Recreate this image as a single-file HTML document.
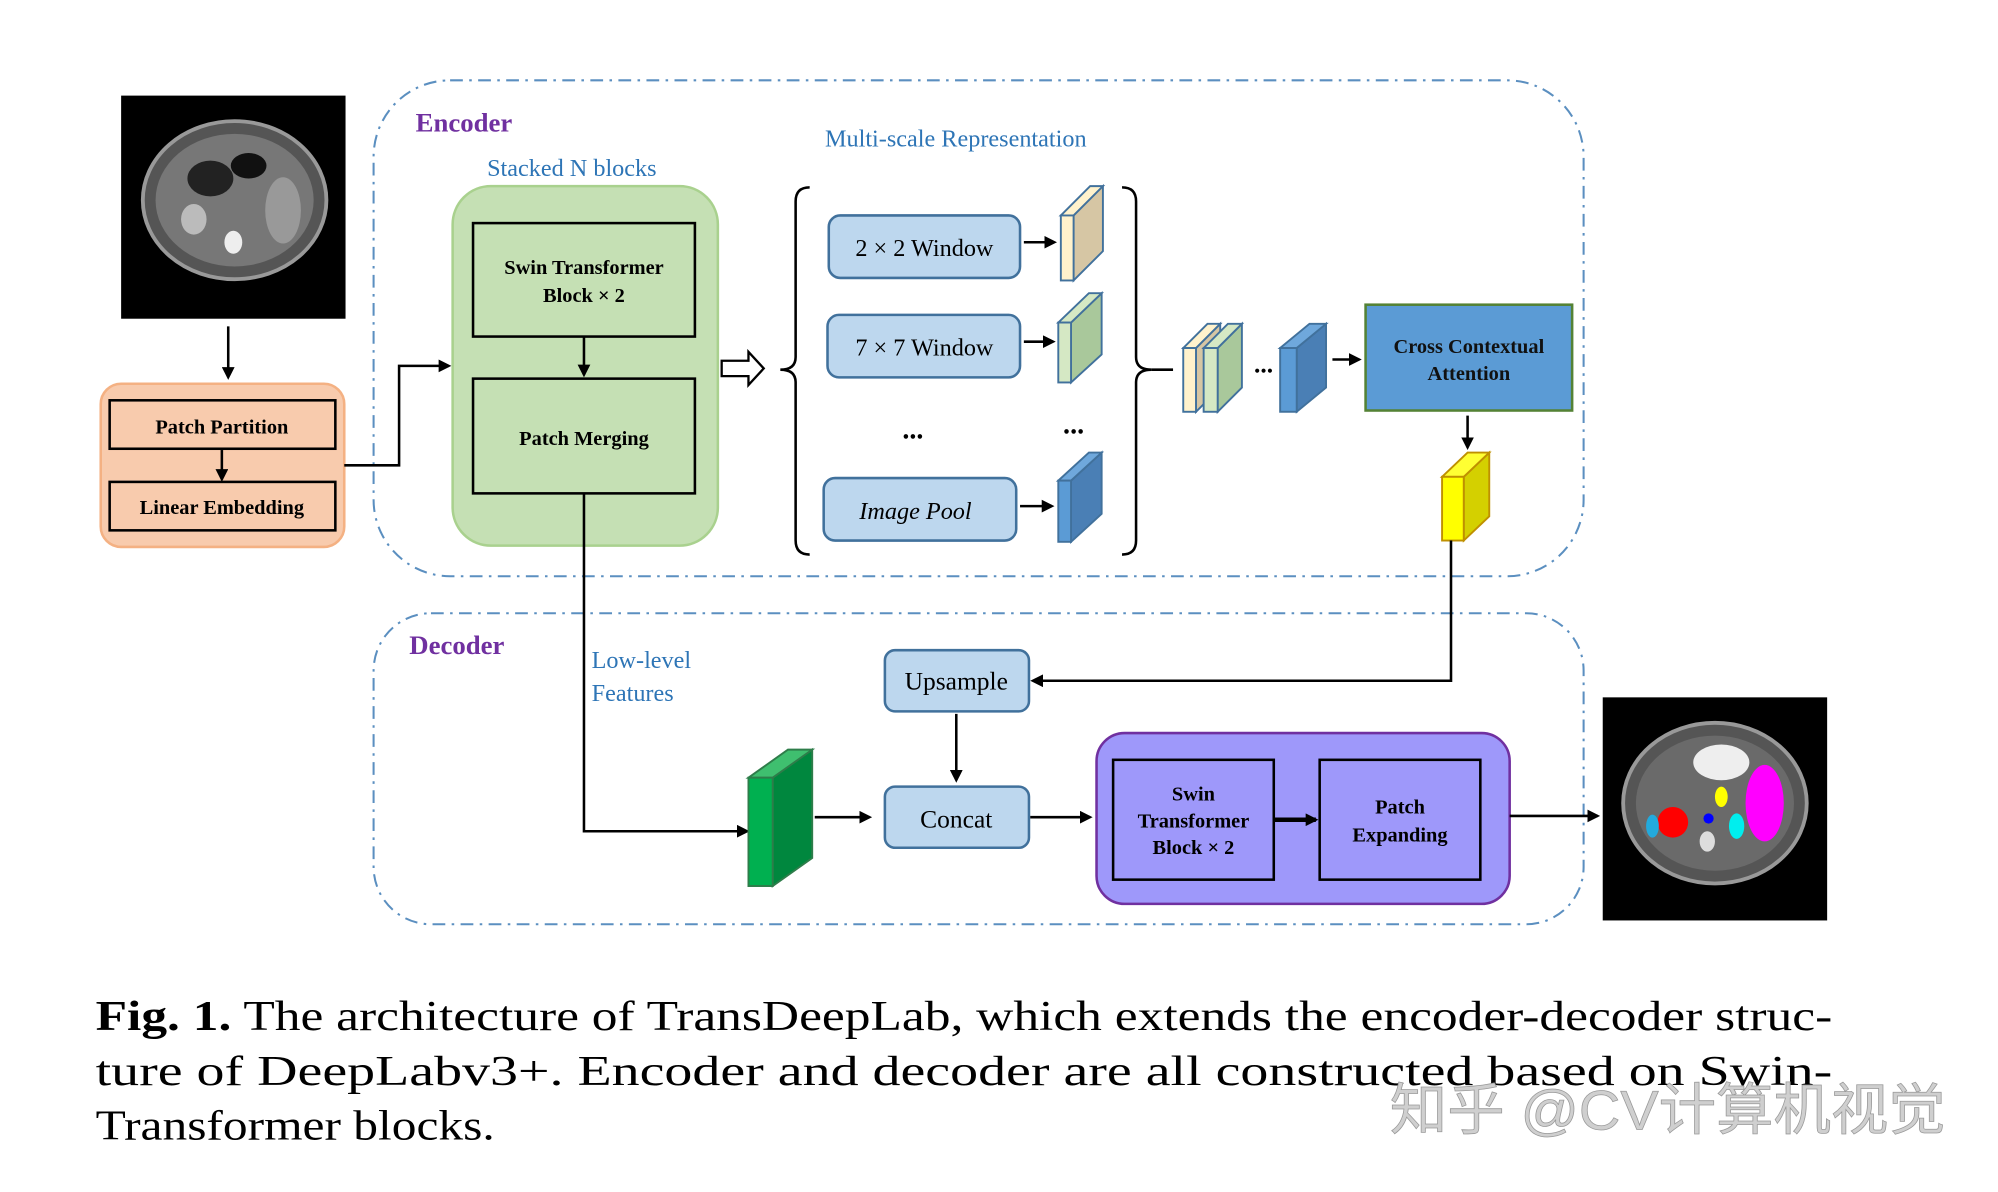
<!DOCTYPE html>
<html><head><meta charset="utf-8"><style>
html,body{margin:0;padding:0;background:#fff;}
svg{display:block;}
text{font-family:"Liberation Serif","Noto Serif CJK SC",serif;}
</style></head><body>
<svg width="1998" height="1192" viewBox="0 0 1567 935" preserveAspectRatio="none" xmlns="http://www.w3.org/2000/svg">
<defs>
<marker id="ah" markerWidth="10" markerHeight="10" refX="8" refY="5" orient="auto" markerUnits="userSpaceOnUse"><path d="M0,0 L10,5 L0,10 z" fill="#000"/></marker>
</defs>
<rect width="1567" height="935" fill="#fff"/>

<rect x="293" y="63" width="949" height="389" rx="60" fill="none" stroke="#5b8fc0" stroke-width="1.6" stroke-dasharray="10,5,2,5"/>
<rect x="293" y="481" width="949" height="244" rx="45" fill="none" stroke="#5b8fc0" stroke-width="1.6" stroke-dasharray="10,5,2,5"/>

<rect x="95" y="75" width="176" height="175" fill="#000"/>
<ellipse cx="184" cy="157" rx="72" ry="62" fill="#555" stroke="#999" stroke-width="3"/>
<ellipse cx="184" cy="157" rx="62" ry="52" fill="#777"/>
<ellipse cx="165" cy="140" rx="18" ry="14" fill="#222"/>
<ellipse cx="195" cy="130" rx="14" ry="10" fill="#111"/>
<ellipse cx="222" cy="165" rx="14" ry="26" fill="#999"/>
<ellipse cx="152" cy="172" rx="10" ry="12" fill="#bbb"/>
<ellipse cx="183" cy="190" rx="7" ry="9" fill="#eee"/>

<line x1="179" y1="256" x2="179" y2="296" stroke="#000" stroke-width="2" marker-end="url(#ah)"/>

<rect x="79" y="301" width="191" height="128" rx="16" fill="#f8cbad" stroke="#f4b183" stroke-width="2"/>
<rect x="86" y="314" width="177" height="38" fill="#f8cbad" stroke="#000" stroke-width="2"/>
<rect x="86" y="378" width="177" height="38" fill="#f8cbad" stroke="#000" stroke-width="2"/>
<text x="174" y="340" font-size="16" font-weight="bold" text-anchor="middle">Patch Partition</text>
<text x="174" y="403" font-size="16" font-weight="bold" text-anchor="middle">Linear Embedding</text>
<line x1="174" y1="353" x2="174" y2="376" stroke="#000" stroke-width="2" marker-end="url(#ah)"/>

<polyline points="270,365 313,365 313,287 352,287" fill="none" stroke="#000" stroke-width="2" marker-end="url(#ah)"/>

<text x="326" y="103" font-size="21" font-weight="bold" fill="#7030a0">Encoder</text>
<text x="382" y="138" font-size="19" fill="#2e75b6">Stacked N blocks</text>
<text x="647" y="115" font-size="19" fill="#2e75b6">Multi-scale Representation</text>

<rect x="355" y="146" width="208" height="282" rx="30" fill="#c5e0b4" stroke="#a9d18e" stroke-width="2"/>
<rect x="371" y="175" width="174" height="89" fill="#c5e0b4" stroke="#000" stroke-width="2"/>
<rect x="371" y="297" width="174" height="90" fill="#c5e0b4" stroke="#000" stroke-width="2"/>
<text x="458" y="215" font-size="16" font-weight="bold" text-anchor="middle">Swin Transformer</text>
<text x="458" y="237" font-size="16" font-weight="bold" text-anchor="middle">Block × 2</text>
<text x="458" y="349" font-size="16" font-weight="bold" text-anchor="middle">Patch Merging</text>
<line x1="458" y1="264" x2="458" y2="294" stroke="#000" stroke-width="2" marker-end="url(#ah)"/>

<path d="M566,283 L587,283 L587,276 L599,289 L587,302 L587,295 L566,295 z" fill="#fff" stroke="#000" stroke-width="1.8"/>

<path d="M635,147 Q624,147 624,158 L624,280 Q624,290 612,290 Q624,290 624,300 L624,424 Q624,435 635,435" fill="none" stroke="#000" stroke-width="2"/>
<path d="M880,147 Q891,147 891,158 L891,280 Q891,290 903,290 Q891,290 891,300 L891,424 Q891,435 880,435" fill="none" stroke="#000" stroke-width="2"/>
<line x1="903" y1="290" x2="920" y2="290" stroke="#000" stroke-width="2"/>

<rect x="650" y="169" width="150" height="49" rx="9" fill="#bdd7ee" stroke="#41719c" stroke-width="2"/>
<rect x="649" y="247" width="151" height="49" rx="9" fill="#bdd7ee" stroke="#41719c" stroke-width="2"/>
<rect x="646" y="375" width="151" height="49" rx="9" fill="#bdd7ee" stroke="#41719c" stroke-width="2"/>
<text x="725" y="201" font-size="19" text-anchor="middle">2 × 2 Window</text>
<text x="725" y="279" font-size="19" text-anchor="middle">7 × 7 Window</text>
<text x="718" y="407" font-size="19" font-style="italic" text-anchor="middle">Image Pool</text>
<text x="716" y="344" font-size="22" font-weight="bold" text-anchor="middle">...</text>
<text x="842" y="340" font-size="22" font-weight="bold" text-anchor="middle">...</text>
<line x1="803" y1="190" x2="827" y2="190" stroke="#000" stroke-width="2" marker-end="url(#ah)"/>
<line x1="803" y1="268" x2="826" y2="268" stroke="#000" stroke-width="2" marker-end="url(#ah)"/>
<line x1="800" y1="397" x2="825" y2="397" stroke="#000" stroke-width="2" marker-end="url(#ah)"/>

<g stroke="#41719c" stroke-width="1.5">
<polygon points="842,169 865,146 865,197 842,220" fill="#d6c6a4"/>
<polygon points="832,169 855,146 865,146 842,169" fill="#fff2cc"/>
<rect x="832" y="169" width="10" height="51" fill="#fff2cc"/>
<polygon points="840,253 864,230 864,278 840,300" fill="#a9c89b"/>
<polygon points="830,253 854,230 864,230 840,253" fill="#d5e8c4"/>
<rect x="830" y="253" width="10" height="47" fill="#d5e8c4"/>
<polygon points="840,377 864,355 864,403 840,425" fill="#4a7fb5"/>
<polygon points="830,377 854,355 864,355 840,377" fill="#6fa8dc"/>
<rect x="830" y="377" width="10" height="48" fill="#5b9bd5"/>
<polygon points="938,273 957,254 957,304 938,323" fill="#d6c6a4"/>
<polygon points="928,273 947,254 957,254 938,273" fill="#fff2cc"/>
<rect x="928" y="273" width="10" height="50" fill="#fff2cc"/>
<polygon points="955,273 974,254 974,304 955,323" fill="#a9c89b"/>
<polygon points="944,273 963,254 974,254 955,273" fill="#d5e8c4"/>
<rect x="944" y="273" width="11" height="50" fill="#d5e8c4"/>
<polygon points="1017,273 1040,254 1040,304 1017,323" fill="#4a7fb5"/>
<polygon points="1004,273 1027,254 1040,254 1017,273" fill="#6fa8dc"/>
<rect x="1004" y="273" width="13" height="50" fill="#5b9bd5"/>
</g>
<text x="991" y="292" font-size="20" font-weight="bold" text-anchor="middle">...</text>
<line x1="1045" y1="282" x2="1066" y2="282" stroke="#000" stroke-width="2" marker-end="url(#ah)"/>

<rect x="1071" y="239" width="162" height="83" fill="#5b9bd5" stroke="#548235" stroke-width="2"/>
<text x="1152" y="277" font-size="16" font-weight="bold" text-anchor="middle" fill="#111">Cross Contextual</text>
<text x="1152" y="298" font-size="16" font-weight="bold" text-anchor="middle" fill="#111">Attention</text>
<line x1="1151" y1="326" x2="1151" y2="351" stroke="#000" stroke-width="2" marker-end="url(#ah)"/>

<g stroke="#bf9000" stroke-width="1.5">
<polygon points="1148,374 1168,355 1168,405 1148,424" fill="#d4d000"/>
<polygon points="1131,374 1151,355 1168,355 1148,374" fill="#ffff33"/>
<rect x="1131" y="374" width="17" height="50" fill="#ffff00"/>
</g>
<polyline points="1138,424 1138,534 810,534" fill="none" stroke="#000" stroke-width="2" marker-end="url(#ah)"/>

<text x="321" y="513" font-size="21" font-weight="bold" fill="#7030a0">Decoder</text>
<text x="464" y="524" font-size="19" fill="#2e75b6">Low-level</text>
<text x="464" y="550" font-size="19" fill="#2e75b6">Features</text>
<polyline points="458,387 458,652 586,652" fill="none" stroke="#000" stroke-width="2" marker-end="url(#ah)"/>

<rect x="694" y="510" width="113" height="48" rx="8" fill="#bdd7ee" stroke="#41719c" stroke-width="2"/>
<text x="750" y="541" font-size="20" text-anchor="middle">Upsample</text>
<line x1="750" y1="560" x2="750" y2="612" stroke="#000" stroke-width="2" marker-end="url(#ah)"/>
<rect x="694" y="617" width="113" height="48" rx="8" fill="#bdd7ee" stroke="#41719c" stroke-width="2"/>
<text x="750" y="649" font-size="20" text-anchor="middle">Concat</text>

<g stroke="#2e7d4a" stroke-width="1.5">
<polygon points="606,610 637,588 637,673 606,695" fill="#00873e"/>
<polygon points="587,610 618,588 637,588 606,610" fill="#3fbf6f"/>
<rect x="587" y="610" width="19" height="85" fill="#00b050"/>
</g>
<line x1="639" y1="641" x2="682" y2="641" stroke="#000" stroke-width="2" marker-end="url(#ah)"/>
<line x1="808" y1="641" x2="855" y2="641" stroke="#000" stroke-width="2" marker-end="url(#ah)"/>

<rect x="860" y="575" width="324" height="134" rx="22" fill="#9e98fa" stroke="#7030a0" stroke-width="2"/>
<rect x="873" y="596" width="126" height="94" fill="#9e98fa" stroke="#000" stroke-width="2"/>
<rect x="1035" y="596" width="126" height="94" fill="#9e98fa" stroke="#000" stroke-width="2"/>
<text x="936" y="628" font-size="16" font-weight="bold" text-anchor="middle">Swin</text>
<text x="936" y="649" font-size="16" font-weight="bold" text-anchor="middle">Transformer</text>
<text x="936" y="670" font-size="16" font-weight="bold" text-anchor="middle">Block × 2</text>
<text x="1098" y="638" font-size="16" font-weight="bold" text-anchor="middle">Patch</text>
<text x="1098" y="660" font-size="16" font-weight="bold" text-anchor="middle">Expanding</text>
<line x1="999" y1="643" x2="1032" y2="643" stroke="#000" stroke-width="3.5" marker-end="url(#ah)"/>
<line x1="1184" y1="640" x2="1253" y2="640" stroke="#000" stroke-width="2" marker-end="url(#ah)"/>

<rect x="1257" y="547" width="176" height="175" fill="#000"/>
<ellipse cx="1345" cy="630" rx="72" ry="63" fill="#555" stroke="#999" stroke-width="3"/>
<ellipse cx="1345" cy="630" rx="62" ry="53" fill="#6a6a6a"/>
<ellipse cx="1350" cy="598" rx="22" ry="14" fill="#eee"/>
<ellipse cx="1312" cy="645" rx="12" ry="12" fill="#f00"/>
<ellipse cx="1296" cy="648" rx="5" ry="9" fill="#2ad"/>
<ellipse cx="1362" cy="648" rx="6" ry="10" fill="#0ee"/>
<ellipse cx="1384" cy="630" rx="15" ry="30" fill="#f0f"/>
<ellipse cx="1350" cy="625" rx="5" ry="8" fill="#ff0"/>
<ellipse cx="1340" cy="642" rx="4" ry="4" fill="#00f"/>
<ellipse cx="1339" cy="660" rx="6" ry="8" fill="#ddd"/>

<text x="75" y="808" font-size="33" textLength="1362" lengthAdjust="spacingAndGlyphs"><tspan font-weight="bold">Fig. 1.</tspan> The architecture of TransDeepLab, which extends the encoder-decoder struc-</text>
<text x="75" y="851" font-size="33" textLength="1362" lengthAdjust="spacingAndGlyphs">ture of DeepLabv3+. Encoder and decoder are all constructed based on Swin-</text>
<text x="75" y="894" font-size="33" textLength="313" lengthAdjust="spacingAndGlyphs">Transformer blocks.</text>

<text x="1090" y="886" font-size="44" fill="#cfcfcf" stroke="#999" stroke-width="0.6" style='font-family:"Liberation Sans","Noto Sans CJK SC",sans-serif' textLength="436" lengthAdjust="spacingAndGlyphs">知乎 @CV计算机视觉</text>
</svg>
</body></html>
